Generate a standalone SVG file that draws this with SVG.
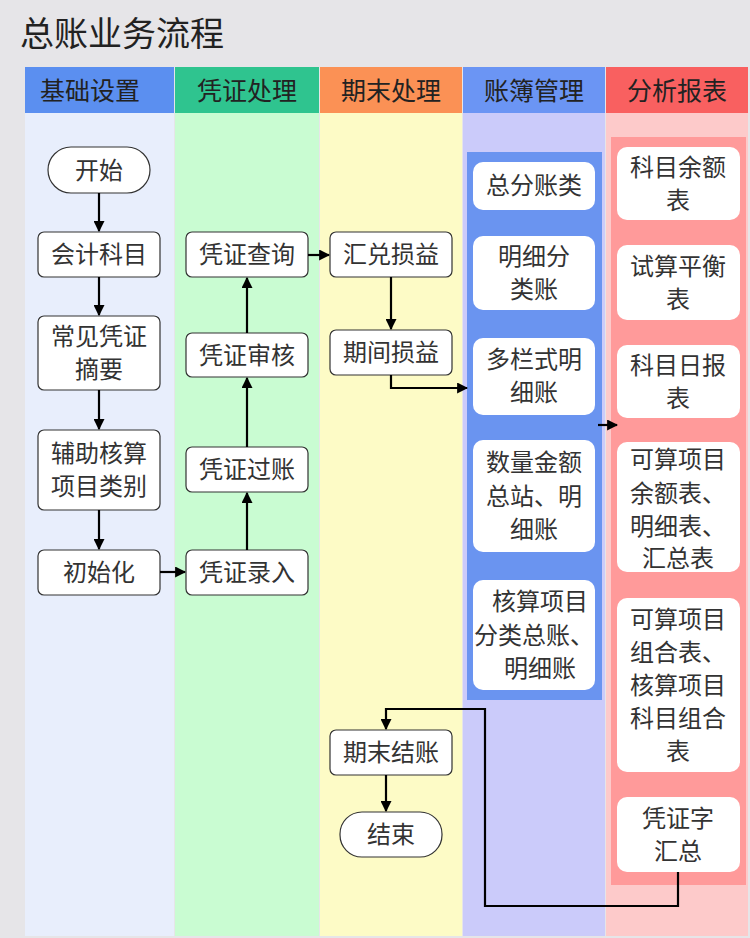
<svg xmlns="http://www.w3.org/2000/svg" width="750" height="938" viewBox="0 0 750 938">
<style>
text{font-family:"Noto Sans CJK SC","Noto Sans",sans-serif;fill:#333;text-anchor:middle}
.h{font-size:25px;fill:#222}
.n{font-size:24px}
.b{fill:#fff;stroke:#333;stroke-width:1.2}
.w{fill:#fff}
.c{fill:none;stroke:#000;stroke-width:2.2;marker-end:url(#a)}
</style>
<defs><marker id="a" viewBox="0 0 10 10" refX="9" refY="5" markerWidth="5" markerHeight="5" orient="auto"><path d="M0,0L10,5L0,10z" fill="#000"/></marker></defs>
<rect width="750" height="938" fill="#e6e5e8"/>
<text x="20" y="46" style="font-size:34px;text-anchor:start;fill:#222">总账业务流程</text>
<g id="lanes">
<rect x="25" y="67" width="149" height="46" fill="#5b8ff0"/><rect x="25" y="113" width="149" height="823" fill="#e8eefc"/>
<rect x="175" y="67" width="144" height="46" fill="#2fc48f"/><rect x="175" y="113" width="144" height="823" fill="#c9fcd2"/>
<rect x="320" y="67" width="142" height="46" fill="#fb9155"/><rect x="320" y="113" width="142" height="823" fill="#fdfbc6"/>
<rect x="463" y="67" width="142" height="46" fill="#6b95f4"/><rect x="463" y="113" width="142" height="823" fill="#cbcbfa"/>
<rect x="606" y="67" width="142" height="46" fill="#f96060"/><rect x="606" y="113" width="142" height="823" fill="#fdcaca"/>
<text class="h" x="90" y="100">基础设置</text><text class="h" x="247" y="100">凭证处理</text><text class="h" x="391" y="100">期末处理</text><text class="h" x="534" y="100">账簿管理</text><text class="h" x="677" y="100">分析报表</text>
<rect x="467" y="152" width="135" height="548" fill="#6a94f0"/>
<rect x="611" y="137" width="135" height="748" fill="#ff9a9a"/>
</g>
<g id="start"><rect class="b" x="48" y="147" width="102" height="46" rx="23"/><text class="n" x="99" y="179">开始</text></g>
<g id="n1"><rect class="b" x="38" y="232" width="122" height="45" rx="6"/><text class="n" x="99" y="263">会计科目</text></g>
<g id="n2"><rect class="b" x="38" y="316" width="122" height="74" rx="6"/><text class="n" x="99" y="345">常见凭证</text><text class="n" x="99" y="378">摘要</text></g>
<g id="n3"><rect class="b" x="38" y="430" width="122" height="80" rx="6"/><text class="n" x="99" y="462">辅助核算</text><text class="n" x="99" y="495">项目类别</text></g>
<g id="n4"><rect class="b" x="38" y="550" width="122" height="45" rx="6"/><text class="n" x="99" y="581">初始化</text></g>
<g id="v1"><rect class="b" x="186" y="550" width="122" height="45" rx="6"/><text class="n" x="247" y="581">凭证录入</text></g>
<g id="v2"><rect class="b" x="186" y="447" width="122" height="45" rx="6"/><text class="n" x="247" y="478">凭证过账</text></g>
<g id="v3"><rect class="b" x="186" y="333" width="122" height="44" rx="6"/><text class="n" x="247" y="364">凭证审核</text></g>
<g id="v4"><rect class="b" x="186" y="232" width="122" height="45" rx="6"/><text class="n" x="247" y="263">凭证查询</text></g>
<g id="p1"><rect class="b" x="330" y="232" width="122" height="45" rx="6"/><text class="n" x="391" y="263">汇兑损益</text></g>
<g id="p2"><rect class="b" x="330" y="330" width="122" height="45" rx="6"/><text class="n" x="391" y="361">期间损益</text></g>
<g id="p3"><rect class="b" x="330" y="730" width="122" height="45" rx="6"/><text class="n" x="391" y="761">期末结账</text></g>
<g id="end"><rect class="b" x="340" y="812" width="102" height="45" rx="22"/><text class="n" x="391" y="843">结束</text></g>
<g id="l1"><rect class="w" x="473" y="162" width="122" height="48" rx="10"/><text class="n" x="534" y="194">总分账类</text></g>
<g id="l2"><rect class="w" x="473" y="236" width="122" height="74" rx="10"/><text class="n" x="534" y="265">明细分</text><text class="n" x="534" y="298">类账</text></g>
<g id="l3"><rect class="w" x="473" y="338" width="122" height="77" rx="10"/><text class="n" x="534" y="368">多栏式明</text><text class="n" x="534" y="401">细账</text></g>
<g id="l4"><rect class="w" x="473" y="440" width="122" height="112" rx="10"/><text class="n" x="534" y="471">数量金额</text><text class="n" x="534" y="505">总站、明</text><text class="n" x="534" y="538">细账</text></g>
<g id="l5"><rect class="w" x="473" y="580" width="122" height="110" rx="10"/><text class="n" x="540" y="610">核算项目</text><text class="n" x="534" y="644">分类总账、</text><text class="n" x="540" y="677">明细账</text></g>
<g id="r1"><rect class="w" x="617" y="147" width="123" height="73" rx="10"/><text class="n" x="678" y="176">科目余额</text><text class="n" x="678" y="209">表</text></g>
<g id="r2"><rect class="w" x="617" y="245" width="123" height="75" rx="10"/><text class="n" x="678" y="275">试算平衡</text><text class="n" x="678" y="308">表</text></g>
<g id="r3"><rect class="w" x="617" y="345" width="123" height="73" rx="10"/><text class="n" x="678" y="374">科目日报</text><text class="n" x="678" y="407">表</text></g>
<g id="r4"><rect class="w" x="617" y="442" width="123" height="130" rx="10"/><text class="n" x="678" y="468">可算项目</text><text class="n" x="678" y="502">余额表、</text><text class="n" x="678" y="535">明细表、</text><text class="n" x="678" y="567">汇总表</text></g>
<g id="r5"><rect class="w" x="617" y="598" width="123" height="174" rx="10"/><text class="n" x="678" y="628">可算项目</text><text class="n" x="678" y="661">组合表、</text><text class="n" x="678" y="694">核算项目</text><text class="n" x="678" y="727">科目组合</text><text class="n" x="678" y="760">表</text></g>
<g id="r6"><rect class="w" x="617" y="797" width="123" height="75" rx="10"/><text class="n" x="678" y="827">凭证字</text><text class="n" x="678" y="860">汇总</text></g>
<g id="connectors">
<path class="c" d="M99,193V231"/><path class="c" d="M99,277V315"/><path class="c" d="M99,390V429"/><path class="c" d="M99,510V549"/>
<path class="c" d="M160,572H185"/>
<path class="c" d="M247,550V493"/><path class="c" d="M247,447V378"/><path class="c" d="M247,333V278"/>
<path class="c" d="M308,255H329"/>
<path class="c" d="M391,277V329"/>
<path class="c" d="M391,375V388H467"/>
<path class="c" d="M598,425H617"/>
<path class="c" d="M678,872V906H485V709H386V729"/>
<path class="c" d="M386,775V811"/>
</g>
</svg>
